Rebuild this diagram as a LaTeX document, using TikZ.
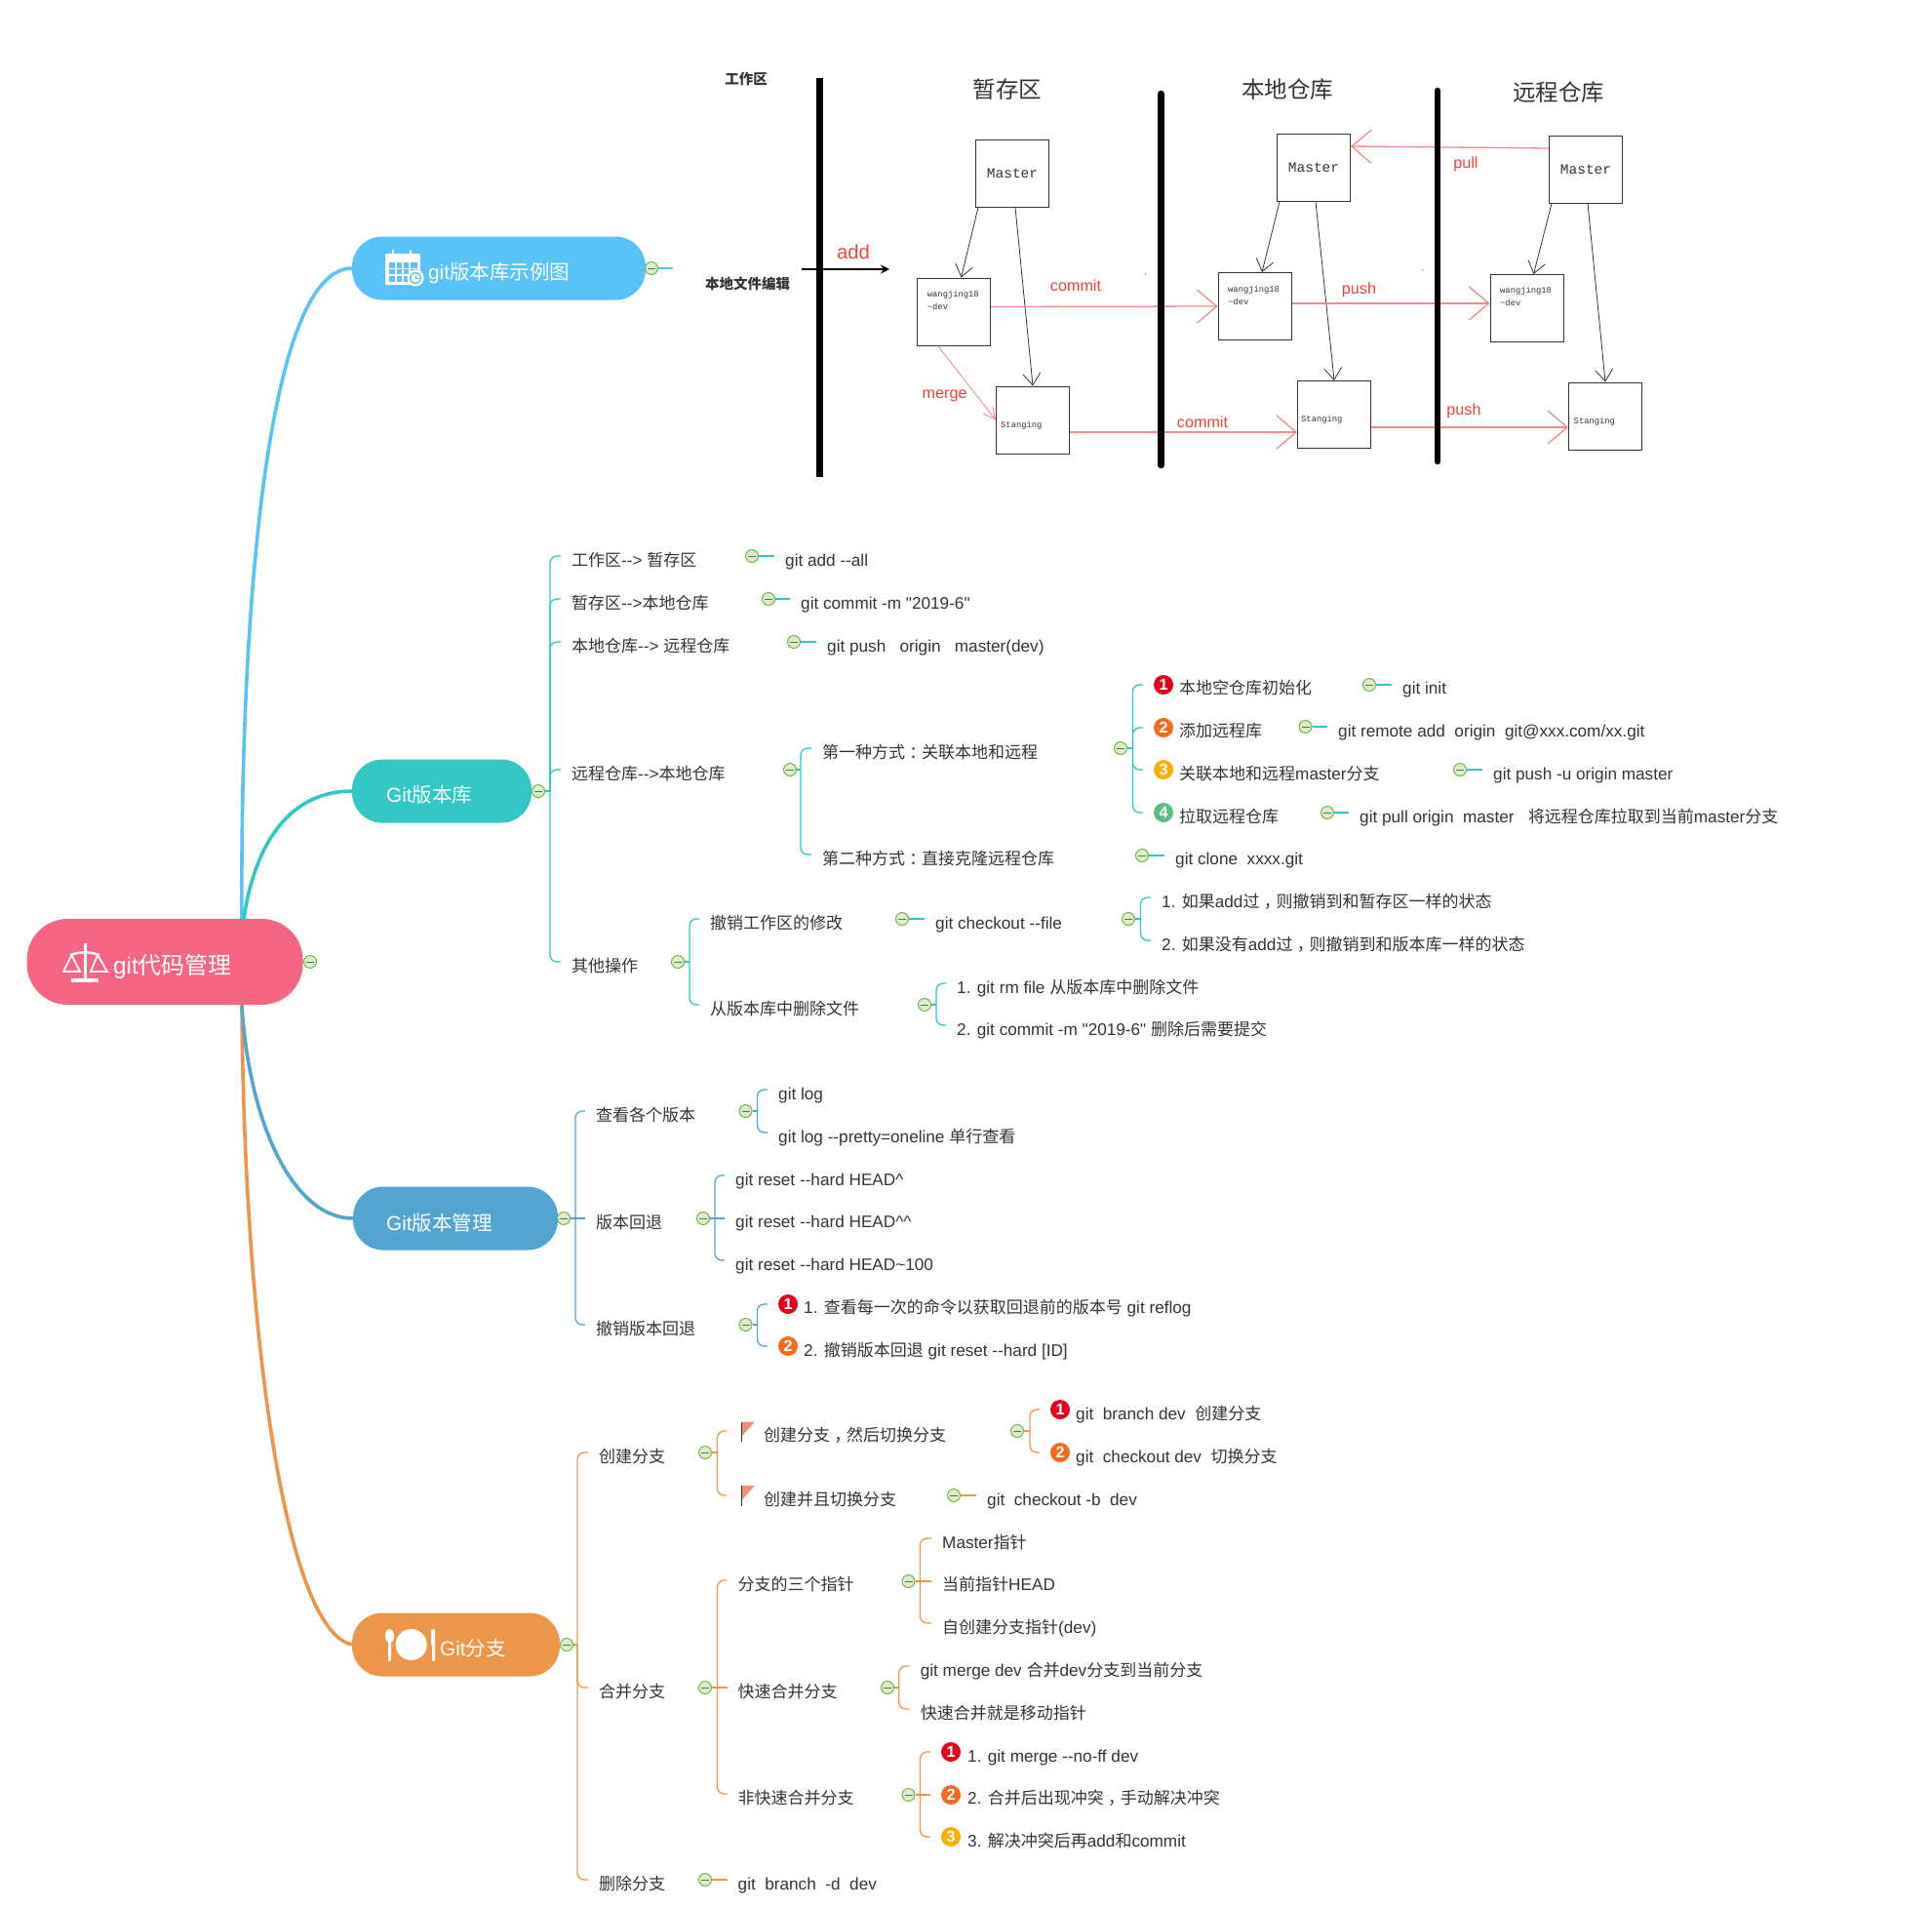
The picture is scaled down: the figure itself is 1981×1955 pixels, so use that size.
\documentclass[tikz,border=0pt]{standalone}
\usepackage{fontspec}
\setmainfont{Liberation Sans}[Ligatures=TeXOff,Scale=1.01]
\setmonofont{Liberation Mono}[Ligatures=TeXOff]
\newfontfamily\cjk{Noto Sans CJK SC}
\usetikzlibrary{arrows.meta}
\newcommand{\zh}[1]{{\cjk #1}}
\newcommand{\zhmid}[1]{\kern.25em #1\kern-.25em}
\definecolor{ink}{HTML}{333333}
\definecolor{rose}{HTML}{F76585}
\definecolor{sky}{HTML}{59C2F6}
\definecolor{sea}{HTML}{33C6C4}
\definecolor{lake}{HTML}{53A5CF}
\definecolor{sand}{HTML}{EC964B}
\definecolor{pen}{HTML}{F04040}
\definecolor{pinkline}{HTML}{F58A8A}
\definecolor{foldring}{HTML}{74B43E}
\definecolor{foldfill}{HTML}{DDEBD2}
\definecolor{firstc}{HTML}{E2001A}
\definecolor{secondc}{HTML}{F56A1F}
\definecolor{thirdc}{HTML}{FCAD00}
\definecolor{fourthc}{HTML}{5BBE85}
\definecolor{flagc}{HTML}{FA8C78}
\begin{document}
\begin{tikzpicture}[x=1pt,y=-1pt]
	\useasboundingbox (0,0) rectangle (1981,1955);

	\tikzstyle{pill}=[inner sep=0,rounded corners=31pt,minimum height=65pt]
	\tikzstyle{pilltxt}=[anchor=west,inner sep=0,text=white,font=\fontsize{20.5}{24}\selectfont]
	\tikzstyle{leaf}=[anchor=west,inner xsep=11pt,inner ysep=0,text=ink,text height=14.5pt,text depth=2pt,font=\fontsize{17}{20}\selectfont]
	\tikzstyle{fold}=[circle,draw=foldring,fill=foldfill,line width=1pt,minimum size=13pt,inner sep=0,
		path picture={\draw[foldring!70!black,line width=1pt] ([xshift=-4pt]path picture bounding box.center) -- ([xshift=4pt]path picture bounding box.center);}]
	\tikzstyle{prio}=[circle,minimum size=20pt,inner sep=0,text=white,font=\fontsize{16}{16}\selectfont\bfseries]
	\tikzstyle{skytwig}=[draw=sky,line width=1.3pt]
	\tikzstyle{seatwig}=[draw=sea,line width=1.3pt,rounded corners=7pt]
	\tikzstyle{laketwig}=[draw=lake,line width=1.3pt,rounded corners=7pt]
	\tikzstyle{sandtwig}=[draw=sand,line width=1.3pt,rounded corners=7pt]
	\tikzstyle{regbox}=[draw=ink,line width=1pt,minimum width=75pt,minimum height=69pt,inner sep=0,text=ink,font=\fontsize{14.5}{16}\ttfamily]
	\tikzstyle{tinytxt}=[anchor=west,align=left,inner sep=0,text=ink,font=\fontsize{8.8}{13}\ttfamily]
	\tikzstyle{redtxt}=[inner sep=0,text=pen,font=\fontsize{16}{18}\selectfont]
	\tikzstyle{head}=[inner sep=0,text=ink,font=\fontsize{23.5}{26}\selectfont]
	\tikzstyle{note}=[inner sep=0,text=ink,font=\fontsize{14.5}{16}\selectfont\bfseries]
	\tikzstyle{wall}=[line width=6.5pt,draw=black]
	\tikzstyle{ptr}=[-{Straight Barb[length=12pt,width=18pt]},draw=ink,line width=.8pt]
	\tikzstyle{moveto}=[-{Straight Barb[length=20pt,width=34pt]},draw=pinkline,line width=1.3pt]
	\tikzstyle{stem}=[line width=3.6pt]

	% main nodes
	\node[pill,fill=rose,rounded corners=42pt,minimum width=283pt,minimum height=88pt] (root) at (169,986) {};
	\node[pill,fill=sky,minimum width=301pt] (demo) at (511.5,275) {};
	\node[pill,fill=sea,minimum width=184pt] (repo) at (453,811) {};
	\node[pill,fill=lake,minimum width=210pt] (vers) at (467,1249) {};
	\node[pill,fill=sand,minimum width=213pt] (bran) at (467.5,1686) {};

	\node[pilltxt,font=\fontsize{24}{28}\selectfont] (roottxt) at (116,991) {git\zh{代码管理}};
	\node[pilltxt] (demotxt) at (439,280) {git\zh{版本库示例图}};
	\node[pilltxt] (repotxt) at (396,815) {Git\zh{版本库}};
	\node[pilltxt] (verstxt) at (396,1254) {Git\zh{版本管理}};
	\node[pilltxt] (brantxt) at (451,1690) {Git\zh{分支}};

	\draw[stem,draw=sky] ([xshift=79pt]root.north) .. controls (246,640) and (272,275) .. (demo.west);
	\draw[stem,draw=sand] ([xshift=79pt]root.south) .. controls (250,1350) and (290,1670) .. (bran.west);
	\draw[stem,draw=lake] ([xshift=79pt]root.south) .. controls (255,1150) and (300,1249) .. (vers.west);
	\draw[stem,draw=sea] ([xshift=81pt]root.north) .. controls (262,860) and (300,811) .. (repo.west);

	% scale icon
	\draw[white,line width=3pt] (87,967) -- (87,1005);
	\draw[white,line width=2.4pt] (72,979) to[bend left=18] (102,979);
	\draw[white,line width=1.8pt] (73.5,979) -- (65,996) -- (82,996) -- cycle;
	\draw[white,line width=1.8pt] (100,979) -- (93,996) -- (110,996) -- cycle;
	\draw[white,line width=3.5pt] (73,1005) -- (101,1005);
	% calendar icon
	\fill[white,rounded corners=1pt] (395,260) rectangle (431,292);
	\fill[white] (402,256) rectangle (404,262);
	\fill[white] (420,256) rectangle (422,262);
	\fill[sky] (399,269) rectangle (428,289);
	\draw[white,line width=1.2pt] (406,269) -- (406,289) (413,269) -- (413,289) (420,269) -- (420,289) (399,275.5) -- (428,275.5) (399,282) -- (428,282);
	\fill[white] (426,285) circle (8.5pt);
	\fill[sky] (426,285) circle (6pt);
	\fill[white] (426,285) circle (4.6pt);
	\draw[sky,line width=1pt] (426,281.5) -- (426,285) -- (429.5,285);
	% cutlery icon
	\fill[white] (399.5,1677) ellipse (4.6pt and 6.8pt);
	\fill[white,rounded corners=1pt] (398,1680) rectangle (401,1703);
	\fill[white] (421.7,1686) circle (16pt);
	\fill[white,rounded corners=1pt] (442,1670) -- (446,1670) -- (446,1703) -- (443,1703) -- (443,1686) -- (442,1686) -- cycle;

	% picture of the four areas
	\node[note] (worknote) at (765,81) {\zh{工作区}};
	\node[head] (stagehead) at (1033,92) {\zh{暂存区}};
	\node[head] (localhead) at (1320,92) {\zh{本地仓库}};
	\node[head] (remotehead) at (1598,95) {\zh{远程仓库}};
	\node[note] (editnote) at (766.7,291) {\zh{本地文件编辑}};

	\node[regbox] (mone) at (1038,177.5) {Master};
	\node[regbox] (wone) at (978,319.5) {};
	\node[regbox] (sone) at (1059,430.5) {};
	\node[regbox] (mtwo) at (1347,172) {Master};
	\node[regbox] (wtwo) at (1286.5,314) {};
	\node[regbox] (stwo) at (1368,425) {};
	\node[regbox] (mthree) at (1626,173.5) {Master};
	\node[regbox] (wthree) at (1565.5,316) {};
	\node[regbox] (sthree) at (1646,426.5) {};

	\node[tinytxt] (wonetxt) at (950.7,308) {wangjing18\\\textasciitilde dev};
	\node[tinytxt] (wtwotxt) at (1259,303) {wangjing18\\\textasciitilde dev};
	\node[tinytxt] (wthreetxt) at (1538,304) {wangjing18\\\textasciitilde dev};
	\node[tinytxt] (sonetxt) at (1026,436) {Stanging};
	\node[tinytxt] (stwotxt) at (1334,430) {Stanging};
	\node[tinytxt] (sthreetxt) at (1613.5,432) {Stanging};

	\draw[ptr] ([xshift=3pt]mone.south west) -- ([xshift=7.5pt]wone.north);
	\draw[ptr] ([xshift=3pt]mone.south) -- (sone.north);
	\draw[ptr] ([xshift=3pt]mtwo.south west) -- ([xshift=7.5pt]wtwo.north);
	\draw[ptr] ([xshift=2pt]mtwo.south) -- (stwo.north);
	\draw[ptr] ([xshift=3pt]mthree.south west) -- ([xshift=7pt]wthree.north);
	\draw[ptr] ([xshift=2pt]mthree.south) -- (sthree.north);

	\draw[moveto] ([yshift=5pt]wone.east) -- (wtwo.west);
	\draw[moveto] ([yshift=3pt]wtwo.east) -- ([yshift=5pt]wthree.west);
	\draw[moveto] ([yshift=21.5pt]mthree.west) -- ([yshift=22pt]mtwo.east);
	\draw[moveto] ([yshift=-12.5pt]sone.east) -- ([yshift=-18pt]stwo.west);
	\draw[moveto] ([yshift=-13pt]stwo.east) -- ([yshift=-11.5pt]sthree.west);
	\draw[-{Straight Barb[length=12pt,width=12pt]},draw=pinkline,line width=.9pt] ([xshift=-16.5pt]wone.south) -- (sone.west);

	\coordinate (addfrom) at (822.4,276);
	\coordinate (addto) at (912,276);
	\draw[-{Stealth[length=9pt,width=9pt]},draw=black,line width=1.8pt] (addfrom) -- (addto);

	\draw[wall] (840.3,80) -- (840.3,489);
	\draw[wall,line cap=round] (1190.5,96) -- (1190.5,477);
	\draw[wall,line cap=round] (1474,93) -- (1474,473);
	\fill[ink] (1174.5,281) circle (.7pt);
	\fill[ink] (1459,277) circle (.7pt);

	\node[redtxt,font=\fontsize{20}{22}\selectfont] (addlab) at (875,258) {add};
	\node[redtxt] (commitone) at (1103,293) {commit};
	\node[redtxt] (pushone) at (1393.5,297) {push};
	\node[redtxt] (pulllab) at (1503,168) {pull};
	\node[redtxt] (mergelab) at (968.6,406) {merge};
	\node[redtxt] (committwo) at (1233,433) {commit};
	\node[redtxt] (pushtwo) at (1501,421) {push};

	% first branch
	\node[fold] (rootfold) at (318,986) {};
	\node[fold] (demofold) at (668,275) {};
	\coordinate (demoend) at (690,275);
	\draw[skytwig] (demofold.east) -- (demoend);

	% Git repo branch
	\node[fold] (repofold) at (552,811) {};
	\coordinate (repok) at (564,811);
	\node[leaf] (wk) at (575,574) {\zh{工作区}--> \zh{暂存区}};
	\node[leaf] (st) at (575,618) {\zh{暂存区}-->\zh{本地仓库}};
	\node[leaf] (lo) at (575,662) {\zh{本地仓库}--> \zh{远程仓库}};
	\node[leaf] (re) at (575,793) {\zh{远程仓库}-->\zh{本地仓库}};
	\node[leaf] (ot) at (575,990) {\zh{其他操作}};
	\draw[seatwig] (repofold.east) -- (repok);
	\draw[seatwig] (repok) |- ([yshift=4pt]wk.west);
	\draw[seatwig] (repok) |- ([yshift=4pt]st.west);
	\draw[seatwig] (repok) |- ([yshift=4pt]lo.west);
	\draw[seatwig] (repok) |- ([yshift=4pt]re.west);
	\draw[seatwig] (repok) |- ([yshift=4pt]ot.west);

	\node[fold] (wkfold) at (771,570) {};
	\node[leaf] (wkcmd) at (794,574) {git add --all};
	\draw[seatwig] (wkfold.east) -- (wkfold -| wkcmd.west);
	\node[fold] (stfold) at (788,614) {};
	\node[leaf] (stcmd) at (810,618) {git commit -m "2019-6"};
	\draw[seatwig] (stfold.east) -- (stfold -| stcmd.west);
	\node[fold] (lofold) at (814,658) {};
	\node[leaf] (locmd) at (837,662) {git push\ \ \ origin\ \ \ master(dev)};
	\draw[seatwig] (lofold.east) -- (lofold -| locmd.west);

	\node[fold] (refold) at (810,789) {};
	\coordinate (rek) at (821,789);
	\node[leaf] (way) at (832,771) {\zh{第一种方式\zhmid{：}关联本地和远程}};
	\node[leaf] (clone) at (832,880) {\zh{第二种方式\zhmid{：}直接克隆远程仓库}};
	\draw[seatwig] (refold.east) -- (rek);
	\draw[seatwig] (rek) |- ([yshift=4pt]way.west);
	\draw[seatwig] (rek) |- ([yshift=4pt]clone.west);

	\node[fold] (wayfold) at (1149,767) {};
	\coordinate (wayk) at (1161.5,767);
	\node[prio,fill=firstc] (wa) at (1193,702) {1};
	\node[prio,fill=secondc] (wb) at (1193,746) {2};
	\node[prio,fill=thirdc] (wc) at (1193,789) {3};
	\node[prio,fill=fourthc] (wd) at (1193,833) {4};
	\draw[seatwig] (wayfold.east) -- (wayk);
	\draw[seatwig] (wayk) |- ([xshift=-11pt]wa.west);
	\draw[seatwig] (wayk) |- ([xshift=-11pt]wb.west);
	\draw[seatwig] (wayk) |- ([xshift=-11pt]wc.west);
	\draw[seatwig] (wayk) |- ([xshift=-11pt]wd.west);
	\node[leaf] (watxt) at (1198,705) {\zh{本地空仓库初始化}};
	\node[leaf] (wbtxt) at (1198,749) {\zh{添加远程库}};
	\node[leaf] (wctxt) at (1198,793) {\zh{关联本地和远程}master\zh{分支}};
	\node[leaf] (wdtxt) at (1198,837) {\zh{拉取远程仓库}};

	\node[fold] (wafold) at (1404,702) {};
	\node[leaf] (wacmd) at (1427,705) {git init};
	\draw[seatwig] (wafold.east) -- (wafold -| wacmd.west);
	\node[fold] (wbfold) at (1338.5,745) {};
	\node[leaf] (wbcmd) at (1361,749) {git remote add\ \ origin\ \ git@xxx.com/xx.git};
	\draw[seatwig] (wbfold.east) -- (wbfold -| wbcmd.west);
	\node[fold] (wcfold) at (1497,789) {};
	\node[leaf] (wccmd) at (1520,793) {git push -u origin master};
	\draw[seatwig] (wcfold.east) -- (wcfold -| wccmd.west);
	\node[fold] (wdfold) at (1361,833) {};
	\node[leaf] (wdcmd) at (1383,837) {git pull origin\ \ master\ \ \ \zh{将远程仓库拉取到当前}master\zh{分支}};
	\draw[seatwig] (wdfold.east) -- (wdfold -| wdcmd.west);
	\node[fold] (clonefold) at (1171,877) {};
	\node[leaf] (clonecmd) at (1194,880) {git clone\ \ xxxx.git};
	\draw[seatwig] (clonefold.east) -- (clonefold -| clonecmd.west);

	\node[fold] (otfold) at (695,986) {};
	\coordinate (otk) at (707,986);
	\node[leaf] (undo) at (717,946) {\zh{撤销工作区的修改}};
	\node[leaf] (del) at (717,1034) {\zh{从版本库中删除文件}};
	\draw[seatwig] (otfold.east) -- (otk);
	\draw[seatwig] (otk) |- ([yshift=4pt]undo.west);
	\draw[seatwig] (otk) |- ([yshift=4pt]del.west);

	\node[fold] (undofold) at (925,942) {};
	\node[leaf] (undocmd) at (948,946) {git checkout --file};
	\draw[seatwig] (undofold.east) -- (undofold -| undocmd.west);
	\node[fold] (casefold) at (1157,942) {};
	\coordinate (casek) at (1169.5,942);
	\node[leaf] (casea) at (1180,924) {1. \zh{如果}add\zh{过\zhmid{，}则撤销到和暂存区一样的状态}};
	\node[leaf] (caseb) at (1180,968) {2. \zh{如果没有}add\zh{过\zhmid{，}则撤销到和版本库一样的状态}};
	\draw[seatwig] (casefold.east) -- (casek);
	\draw[seatwig] (casek) |- ([yshift=4pt]casea.west);
	\draw[seatwig] (casek) |- ([yshift=4pt]caseb.west);

	\node[fold] (delfold) at (948,1030) {};
	\coordinate (delk) at (960,1030);
	\node[leaf] (dela) at (970,1012) {1. git rm file \zh{从版本库中删除文件}};
	\node[leaf] (delb) at (970,1055) {2. git commit -m "2019-6" \zh{删除后需要提交}};
	\draw[seatwig] (delfold.east) -- (delk);
	\draw[seatwig] (delk) |- ([yshift=4pt]dela.west);
	\draw[seatwig] (delk) |- ([yshift=4pt]delb.west);

	% Git version branch
	\node[fold] (versfold) at (578,1249) {};
	\coordinate (versk) at (590,1249);
	\node[leaf] (look) at (600,1143) {\zh{查看各个版本}};
	\node[leaf] (back) at (600,1253) {\zh{版本回退}};
	\node[leaf] (redo) at (600,1362) {\zh{撤销版本回退}};
	\draw[laketwig] (versfold.east) -- (versk);
	\draw[laketwig] (versk) |- ([yshift=4pt]look.west);
	\draw[laketwig] (versk) -- ([yshift=4pt]back.west);
	\draw[laketwig] (versk) |- ([yshift=4pt]redo.west);

	\node[fold] (lookfold) at (764.5,1139) {};
	\coordinate (lookk) at (776.5,1139);
	\node[leaf] (looka) at (787,1121) {git log};
	\node[leaf] (lookb) at (787,1165) {git log --pretty=oneline \zh{单行查看}};
	\draw[laketwig] (lookfold.east) -- (lookk);
	\draw[laketwig] (lookk) |- ([yshift=4pt]looka.west);
	\draw[laketwig] (lookk) |- ([yshift=4pt]lookb.west);

	\node[fold] (backfold) at (721,1249) {};
	\coordinate (backk) at (733,1249);
	\node[leaf] (backa) at (743,1209) {git reset --hard HEAD\textasciicircum};
	\node[leaf] (backb) at (743,1252) {git reset --hard HEAD\textasciicircum\textasciicircum};
	\node[leaf] (backc) at (743,1296) {git reset --hard HEAD\textasciitilde 100};
	\draw[laketwig] (backfold.east) -- (backk);
	\draw[laketwig] (backk) |- ([yshift=4pt]backa.west);
	\draw[laketwig] (backk) -- (backk -| backb.west);
	\draw[laketwig] (backk) |- ([yshift=4pt]backc.west);

	\node[fold] (redofold) at (764.5,1358) {};
	\coordinate (redok) at (776.5,1358);
	\node[prio,fill=firstc] (ra) at (808,1337) {1};
	\node[prio,fill=secondc] (rb) at (808,1380) {2};
	\draw[laketwig] (redofold.east) -- (redok);
	\draw[laketwig] (redok) |- ([xshift=-11pt]ra.west);
	\draw[laketwig] (redok) |- ([xshift=-11pt]rb.west);
	\node[leaf] (ratxt) at (813,1340) {1. \zh{查看每一次的命令以获取回退前的版本号} git reflog};
	\node[leaf] (rbtxt) at (813,1384) {2. \zh{撤销版本回退} git reset --hard [ID]};

	% Git branch branch
	\node[fold] (branfold) at (581,1686) {};
	\coordinate (brank) at (592,1686);
	\node[leaf] (make) at (603,1493) {\zh{创建分支}};
	\node[leaf] (join) at (603,1734) {\zh{合并分支}};
	\node[leaf] (drop) at (603,1931) {\zh{删除分支}};
	\draw[sandtwig] (branfold.east) -- (brank);
	\draw[sandtwig] (brank) |- ([yshift=4pt]make.west);
	\draw[sandtwig] (brank) |- ([yshift=4pt]join.west);
	\draw[sandtwig] (brank) |- ([yshift=4pt]drop.west);

	\node[fold] (makefold) at (723,1489) {};
	\coordinate (makek) at (735.5,1489);
	\coordinate (flaga) at (745,1467);
	\coordinate (flagb) at (745,1533);
	\draw[sandtwig] (makefold.east) -- (makek);
	\draw[sandtwig] (makek) |- (flaga);
	\draw[sandtwig] (makek) |- (flagb);
	\fill[flagc] (760,1457.5) -- (774,1457.5) -- (760,1473) -- cycle;
	\draw[ink,line width=.8pt] (760,1457.5) -- (760,1478);
	\fill[flagc] (760,1523) -- (774,1523) -- (760,1538.5) -- cycle;
	\draw[ink,line width=.8pt] (760,1523) -- (760,1543.5);
	\node[leaf] (makea) at (772,1471) {\zh{创建分支\zhmid{，}然后切换分支}};
	\node[leaf] (makeb) at (772,1537) {\zh{创建并且切换分支}};

	\node[fold] (makeafold) at (1043,1467) {};
	\coordinate (makeak) at (1056,1467);
	\node[prio,fill=firstc] (ma) at (1087,1445) {1};
	\node[prio,fill=secondc] (mb) at (1087,1489) {2};
	\draw[sandtwig] (makeafold.east) -- (makeak);
	\draw[sandtwig] (makeak) |- ([xshift=-11pt]ma.west);
	\draw[sandtwig] (makeak) |- ([xshift=-11pt]mb.west);
	\node[leaf] (matxt) at (1092,1449) {git\ \ branch dev\ \ \zh{创建分支}};
	\node[leaf] (mbtxt) at (1092,1493) {git\ \ checkout dev\ \ \zh{切换分支}};

	\node[fold] (makebfold) at (978,1533) {};
	\node[leaf] (makebcmd) at (1001,1537) {git\ \ checkout -b\ \ dev};
	\draw[sandtwig] (makebfold.east) -- (makebfold -| makebcmd.west);

	\node[fold] (joinfold) at (723,1730) {};
	\coordinate (joink) at (735.5,1730);
	\node[leaf] (point) at (745.5,1624) {\zh{分支的三个指针}};
	\node[leaf] (fast) at (745.5,1734) {\zh{快速合并分支}};
	\node[leaf] (slow) at (745.5,1843) {\zh{非快速合并分支}};
	\draw[sandtwig] (joinfold.east) -- (joink);
	\draw[sandtwig] (joink) |- ([yshift=4pt]point.west);
	\draw[sandtwig] (joink) -- ([yshift=4pt]fast.west);
	\draw[sandtwig] (joink) |- ([yshift=4pt]slow.west);

	\node[fold] (pointfold) at (931.5,1621) {};
	\coordinate (pointk) at (943.5,1621);
	\node[leaf] (pointa) at (955,1581) {Master\zh{指针}};
	\node[leaf] (pointb) at (955,1624) {\zh{当前指针}HEAD};
	\node[leaf] (pointc) at (955,1668) {\zh{自创建分支指针}(dev)};
	\draw[sandtwig] (pointfold.east) -- (pointk);
	\draw[sandtwig] (pointk) |- ([yshift=4pt]pointa.west);
	\draw[sandtwig] (pointk) -- (pointk -| pointb.west);
	\draw[sandtwig] (pointk) |- ([yshift=4pt]pointc.west);

	\node[fold] (fastfold) at (910,1730) {};
	\coordinate (fastk) at (921.7,1730);
	\node[leaf] (fasta) at (932.6,1712) {git merge dev \zh{合并}dev\zh{分支到当前分支}};
	\node[leaf] (fastb) at (932.6,1756) {\zh{快速合并就是移动指针}};
	\draw[sandtwig] (fastfold.east) -- (fastk);
	\draw[sandtwig] (fastk) |- ([yshift=4pt]fasta.west);
	\draw[sandtwig] (fastk) |- ([yshift=4pt]fastb.west);

	\node[fold] (slowfold) at (931.5,1840) {};
	\coordinate (slowk) at (943.5,1840);
	\node[prio,fill=firstc] (sa) at (975,1796) {1};
	\node[prio,fill=secondc] (sb) at (975,1840) {2};
	\node[prio,fill=thirdc] (sc) at (975,1883) {3};
	\draw[sandtwig] (slowfold.east) -- (slowk);
	\draw[sandtwig] (slowk) |- ([xshift=-11pt]sa.west);
	\draw[sandtwig] (slowk) -- ([xshift=-11pt]sb.west);
	\draw[sandtwig] (slowk) |- ([xshift=-11pt]sc.west);
	\node[leaf] (satxt) at (981,1800) {1. git merge --no-ff dev};
	\node[leaf] (sbtxt) at (981,1843) {2. \zh{合并后出现冲突\zhmid{，}手动解决冲突}};
	\node[leaf] (sctxt) at (981,1887) {3. \zh{解决冲突后再}add\zh{和}commit};

	\node[fold] (dropfold) at (723,1927) {};
	\node[leaf] (dropcmd) at (745.5,1931) {git\ \ branch\ \ -d\ \ dev};
	\draw[sandtwig] (dropfold.east) -- (dropfold -| dropcmd.west);
\end{tikzpicture}
\end{document}
